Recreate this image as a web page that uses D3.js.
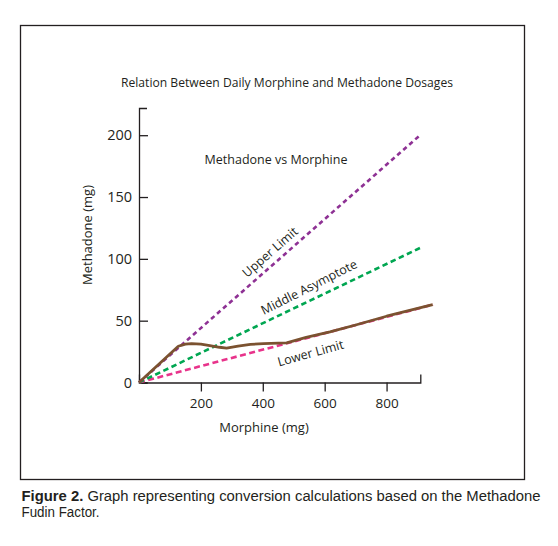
<!DOCTYPE html>
<html lang="en">
<head>
<meta charset="UTF-8">
<title>Relation Between Daily Morphine and Methadone Dosages</title>
<script src="https://d3js.org/d3.v7.min.js"></script>
<style>
  body { margin: 0; background: #fff; }
  svg text { fill: #231f20; }
  .chart text { font-family: "Open Sans", "Noto Sans", sans-serif; }
  .caption { font-family: "Liberation Sans Narrow", "Arial Narrow", "Liberation Sans", sans-serif; font-stretch: condensed; font-size: 14px; }
  .axis path, .axis line { stroke: #231f20; stroke-width: 1.3; }
</style>
</head>
<body>
<svg id="fig" width="558" height="546"></svg>
<script>
// morphine (mg) -> methadone (mg)
const upperMorphine = [0, 908];
const upperMethadone = [0, 200];
const middleMorphine = [0, 918];
const middleMethadone = [0, 110];
const lowerMorphine = [0, 950];
const lowerMethadone = [0, 63];
const curveMorphine = [0, 127, 150, 170, 200, 229, 260, 283, 320, 360, 402, 450, 477, 540, 617, 700, 800, 949];
const curveMethadone = [0, 29.3, 31, 31.5, 31, 29.9, 28.5, 27.8, 29.5, 30.8, 31.5, 31.8, 32, 36.5, 41, 46.5, 53.6, 63];
const xTicks = [200, 400, 600, 800];
const yTicks = [0, 50, 100, 150, 200];

const svg = d3.select("#fig");

// frame
svg.append("rect")
  .attr("x", 20.5).attr("y", 25.5)
  .attr("width", 504).attr("height", 454)
  .attr("fill", "none").attr("stroke", "#231f20").attr("stroke-width", 1.3);

const g = svg.append("g").attr("class", "chart");

const x = d3.scaleLinear().domain([0, 909]).range([139, 420.3]);
const y = d3.scaleLinear().domain([0, 222]).range([382.5, 108]);

g.append("text")
  .attr("x", 287).attr("y", 87)
  .attr("text-anchor", "middle")
  .attr("font-size", 12)
  .attr("textLength", 332).attr("lengthAdjust", "spacingAndGlyphs")
  .text("Relation Between Daily Morphine and Methadone Dosages");

const xAxis = g.append("g")
  .attr("class", "axis")
  .attr("transform", `translate(0,${y(0)})`)
  .call(d3.axisBottom(x).tickValues(xTicks).tickSize(9).tickSizeOuter(-8).tickPadding(7));
xAxis.selectAll("text").attr("font-size", 13.5).attr("fill", "#231f20");

const yAxis = g.append("g")
  .attr("class", "axis")
  .attr("transform", `translate(${x(0)},0)`)
  .call(d3.axisLeft(y).tickValues(yTicks).tickSize(-9).tickSizeOuter(-8).tickPadding(7));
yAxis.selectAll("text").attr("font-size", 14.5).attr("fill", "#231f20");

g.append("text")
  .attr("x", 264).attr("y", 432)
  .attr("text-anchor", "middle").attr("font-size", 13)
  .text("Morphine (mg)");

g.append("text")
  .attr("transform", `translate(92,235) rotate(-90)`)
  .attr("text-anchor", "middle").attr("font-size", 13)
  .text("Methadone (mg)");

g.append("text")
  .attr("x", 276).attr("y", 164)
  .attr("text-anchor", "middle").attr("font-size", 12.5)
  .text("Methadone vs Morphine");

const line = d3.line().x(d => x(d[0])).y(d => y(d[1]));

const dashed = [
  { xs: lowerMorphine, ys: lowerMethadone, color: "#e8338b", dash: "6,3.5" },
  { xs: middleMorphine, ys: middleMethadone, color: "#00a651", dash: "5.5,3.5" },
  { xs: upperMorphine, ys: upperMethadone, color: "#8e3194", dash: "4.5,3.5" }
];

dashed.forEach(s => {
  g.append("path")
    .datum(d3.zip(s.xs, s.ys))
    .attr("d", line)
    .attr("fill", "none")
    .attr("stroke", s.color)
    .attr("stroke-width", 2.6)
    .attr("stroke-dasharray", s.dash);
});

g.append("path")
  .datum(d3.zip(curveMorphine, curveMethadone))
  .attr("d", line)
  .attr("fill", "none")
  .attr("stroke", "#7b5230")
  .attr("stroke-width", 2.8)
  .attr("stroke-linejoin", "round");

// line labels
const labels = [
  { text: "Upper Limit", cx: 270, cy: 252, angle: -41, size: 12.5 },
  { text: "Middle Asymptote", cx: 309, cy: 287, angle: -27, size: 12.5 },
  { text: "Lower Limit", cx: 310.5, cy: 353, angle: -15.5, size: 12.5 }
];
labels.forEach(l => {
  g.append("text")
    .attr("transform", `translate(${l.cx},${l.cy}) rotate(${l.angle})`)
    .attr("text-anchor", "middle")
    .attr("dominant-baseline", "central")
    .attr("font-size", l.size)
    .text(l.text);
});

// caption
const cap = svg.append("text").attr("class", "caption")
  .attr("x", 21.5).attr("y", 501)
  .attr("textLength", 519).attr("lengthAdjust", "spacingAndGlyphs");
cap.append("tspan").attr("font-weight", "bold").text("Figure 2.");
cap.append("tspan").text(" Graph representing conversion calculations based on the Methadone");

svg.append("text").attr("class", "caption")
  .attr("x", 21.5).attr("y", 517)
  .attr("textLength", 78).attr("lengthAdjust", "spacingAndGlyphs")
  .text("Fudin Factor.");
</script>
</body>
</html>
